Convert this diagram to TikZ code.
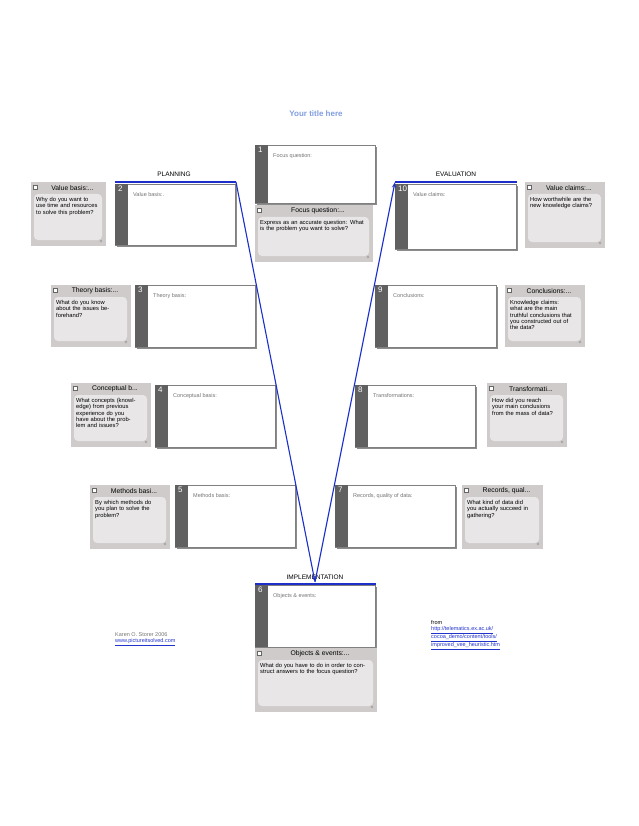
\documentclass[tikz,border=0pt]{standalone}
\usepackage{fontspec}
\setmainfont{Liberation Sans}
\usetikzlibrary{arrows.meta}
\definecolor{vblue}{HTML}{1C2FC8}
\definecolor{tblue}{HTML}{7F9DE0}
\definecolor{cgrey}{HTML}{CFCBCB}
\definecolor{cin}{HTML}{E8E6E6}
\definecolor{bar}{HTML}{606060}
\definecolor{lnk}{HTML}{2233CC}
\tikzset{
 lbl/.style={font=\fontsize{5.5}{6.5}\selectfont,text=black!55,anchor=north west,inner sep=0},
 ctext/.style={font=\fontsize{5.8}{6.3}\selectfont,anchor=north west,inner sep=0,align=left},
 ctitle/.style={font=\fontsize{6.8}{8}\selectfont,inner sep=0},
 num/.style={font=\fontsize{8}{9}\selectfont,text=white,anchor=north west,inner sep=0},
 vline/.style={draw=vblue,line width=1.1pt},
 head/.style={font=\fontsize{6.5}{8}\selectfont,inner sep=0}
}
% number box: name, x1,y1,x2,y2, number, label
\newcommand{\nbox}[7]{%
 \fill[black!45] (#2+2,#3+2) rectangle (#4+2,#5+2);
 \draw[black!50,fill=white] (#2,#3) rectangle (#4,#5);
 \fill[bar] (#2,#3) rectangle (#2+13,#5);
 \node[num] at (#2+3,#3+2) {#6};
 \node[lbl] (#1) at (#2+18,#3+8) {#7};}
% comment box: name, x1,y1,x2,y2, title, text, text width
\newcommand{\cbox}[8]{%
 \fill[cgrey] (#2,#3) rectangle (#4,#5);
 \fill[cin,rounded corners=4pt] (#2+3,#3+12) rectangle (#4-4,#5-6);
 \draw[black!60,fill=white,line width=0.3pt] (#2+2.5,#3+3.5) rectangle (#2+6.5,#3+7.5);
 \node[ctitle] (#1) at ({(#2+#4)/2+4},#3+6) {#6};
 \node[ctext,text width=#8] at (#2+5,#3+15) {#7};
 \fill[black!35] (#4-5,#5-5) circle (1.3pt);}
\begin{document}
\begin{tikzpicture}[x=1pt,y=-1pt]
\useasboundingbox (0,0) rectangle (638,826);
\node[font=\bfseries\fontsize{8}{10}\selectfont,text=tblue] (title) at (316,114) {Your title here};
\node[head] (plan) at (174,174) {PLANNING};
\node[head] (eval) at (456,174) {EVALUATION};
\node[head] (impl) at (315,577) {IMPLEMENTATION};

\nbox{b1}{255}{145}{375}{203}{1}{Focus question:}
\nbox{b2}{115}{184}{235}{245}{2}{Value basis:\\[6pt].}
\nbox{b3}{135}{285}{255}{347}{3}{Theory basis:}
\nbox{b4}{155}{385}{275}{447}{4}{Conceptual basis:}
\nbox{b5}{175}{485}{295}{547}{5}{Methods basis:}
\nbox{b6}{255}{585}{375}{647}{6}{Objects \& events:}
\nbox{b7}{335}{485}{455}{547}{7}{Records, quality of data:}
\nbox{b8}{355}{385}{475}{447}{8}{Transformations:}
\nbox{b9}{375}{285}{496}{347}{9}{Conclusions:}
\nbox{b10}{395}{184}{516}{249}{10}{Value claims:}
\node[lbl,align=left] at (273,153) {};

\cbox{c2}{31}{182}{106}{246}{Value basis:...}{Why do you want to use time and resources to solve this problem?}{62pt}
\cbox{c1}{255}{205}{373}{262}{Focus question:...}{Express as an accurate question: What is the problem you want to solve?}{105pt}
\cbox{c3}{51}{285}{131}{347}{Theory basis:...}{What do you know about the issues beforehand?}{62pt}
\cbox{c4}{71}{383}{151}{447}{Conceptual b...}{What concepts (knowledge) from previous experience do you have about the problem and issues?}{62pt}
\cbox{c5}{90}{485}{170}{549}{Methods basi...}{By which methods do you plan to solve the problem?}{66pt}
\cbox{c6}{255}{648}{377}{712}{Objects \& events:...}{What do you have to do in order to construct answers to the focus question?}{108pt}
\cbox{c10}{525}{182}{605}{248}{Value claims:...}{How worthwhile are the new knowledge claims?}{62pt}
\cbox{c9}{505}{285}{585}{347}{Conclusions:...}{Knowledge claims: what are the main truthful conclusions that you constructed out of the data?}{62pt}
\cbox{c8}{487}{383}{567}{447}{Transformati...}{How did you reach your main conclusions from the mass of data?}{62pt}
\cbox{c7}{462}{485}{543}{549}{Records, qual...}{What kind of data did you actually succeed in gathering?}{66pt}

\coordinate (tl) at (115,182);
\coordinate (vl) at (236,182);
\coordinate (vb) at (315,582);
\coordinate (vr) at (395,182);
\coordinate (tr) at (517,182);
\coordinate (il) at (255,584);
\coordinate (ir) at (376,584);
\draw[vline] (tl) -- (vl);
\draw[vline,-{Stealth[length=6pt,width=4pt]}] (vl) -- (vb);
\draw[vline,-{Stealth[length=6pt,width=4pt]}] (vb) -- (vr);
\draw[vline] (vr) -- (tr);
\draw[vline] (il) -- (ir);

\node[ctext,text=black!55,font=\fontsize{5.5}{6.3}\selectfont] (karen) at (115,632) {Karen O. Storer 2006\\\textcolor{lnk}{\underline{www.pictureitsolved.com}}};
\node[ctext,font=\fontsize{5.5}{6.3}\selectfont] (from) at (431,620) {from\\\textcolor{lnk}{\underline{http://telematics.ex.ac.uk/}}\\\textcolor{lnk}{\underline{cocoa\_demo/content/tools/}}\\\textcolor{lnk}{\underline{improved\_vee\_heuristic.htm}}};
\end{tikzpicture}
\end{document}
